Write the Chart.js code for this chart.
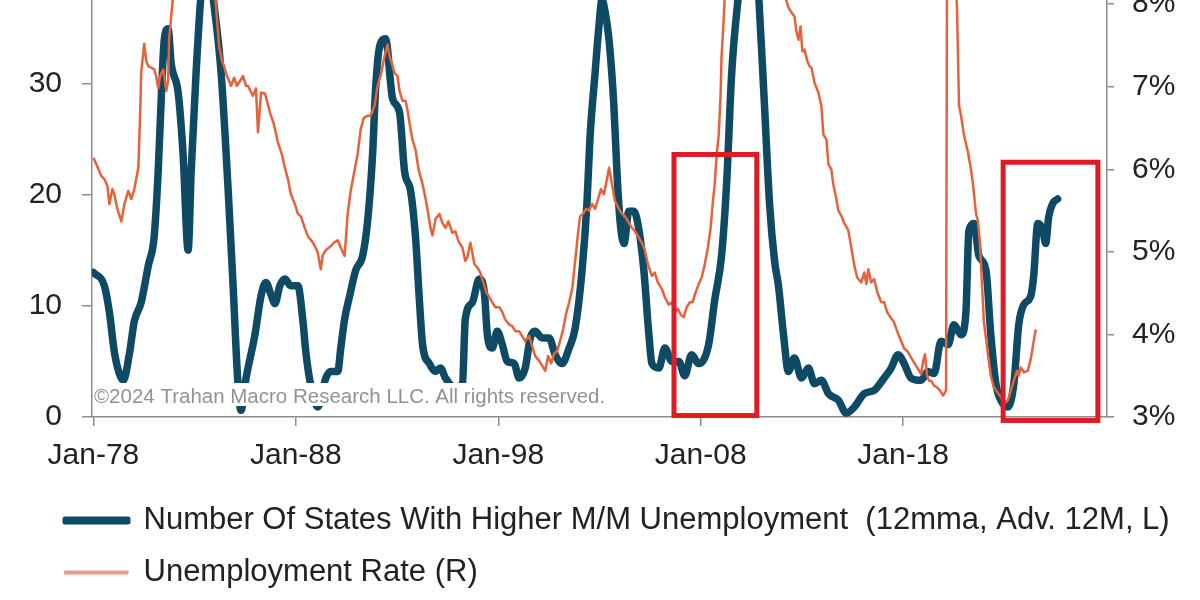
<!DOCTYPE html>
<html>
<head>
<meta charset="utf-8">
<script src="https://cdn.jsdelivr.net/npm/chart.js@4.4.1/dist/chart.umd.min.js"></script>
<style>
html,body{margin:0;padding:0;background:#fff;overflow:hidden;width:1200px;height:600px;}
#wrap{position:absolute;left:0;top:-66px;width:1200px;height:664px;}
</style>
</head>
<body>
<div id="wrap"><canvas id="c" width="1200" height="664"></canvas></div>
<script>
// ---- data (decimal year, value) ----
const statesLabel = "Number Of States With Higher M/M Unemployment  (12mma, Adv. 12M, L)";
const rateLabel = "Unemployment Rate (R)";
const xTickYears = [1978, 1988, 1998, 2008, 2018];
const leftTicks = [0, 10, 20, 30, 40];
const rightTicks = [3, 4, 5, 6, 7, 8];

const statesSeries = [
[1978.0,13.0],[1978.54,11.8],[1978.79,9.4],[1979.03,5.9],[1979.28,3.9],[1979.48,3.3],[1979.77,5.6],[1980.02,8.6],
[1980.36,10.3],[1980.71,13.6],[1981.0,16.2],[1981.2,22.1],[1981.35,28.6],[1981.5,33.9],[1981.69,34.9],[1981.84,31.8],
[1982.19,29.1],[1982.43,23.6],[1982.68,15.0],[1982.83,22.1],[1983.07,30.9],[1983.32,38],[1983.62,41],[1983.96,37],
[1984.31,30.9],[1984.65,20.6],[1984.9,11.8],[1985.14,3.0],[1985.29,0.6],[1985.54,3.5],[1985.98,7.4],[1986.28,10.9],
[1986.52,12.1],[1986.77,11.0],[1986.97,10.2],[1987.21,11.8],[1987.46,12.4],[1987.75,11.8],[1988.1,11.8],[1988.34,8.8],
[1988.49,5.9],[1988.69,3.3],[1989.08,0.9],[1989.48,3.5],[1989.72,4.1],[1990.07,4.1],[1990.22,6.2],[1990.41,8.8],
[1990.66,10.9],[1990.96,13.2],[1991.3,14.5],[1991.55,17.7],[1991.79,23.6],[1991.94,29.5],[1992.14,33.3],[1992.43,34.0],
[1992.78,28.6],[1993.12,27.4],[1993.37,22.1],[1993.67,20.3],[1993.91,16.2],[1994.11,10.3],[1994.26,6.5],[1994.6,4.8],
[1994.9,4.1],[1995.14,4.4],[1995.39,3.5],[1995.88,2.6],[1996.23,3.0],[1996.37,8.8],[1996.72,10.3],[1997.06,12.4],
[1997.31,11.2],[1997.46,7.4],[1997.7,6.2],[1997.95,7.7],[1998.2,6.5],[1998.44,5.0],[1998.79,4.8],[1999.03,3.5],
[1999.33,4.4],[1999.58,7.1],[1999.82,7.7],[2000.17,7.1],[2000.51,7.1],[2000.81,5.6],[2001.15,4.8],[2001.5,6.2],
[2001.79,7.9],[2002.14,13.2],[2002.38,19.2],[2002.53,25.1],[2002.78,30.9],[2002.98,35.3],[2003.12,37.5],[2003.27,36.5],
[2003.47,33.9],[2003.71,28.0],[2003.86,22.1],[2004.01,17.7],[2004.21,15.6],[2004.45,18.5],[2004.7,18.5],[2004.95,16.8],
[2005.19,13.2],[2005.44,7.4],[2005.59,4.8],[2005.93,4.4],[2006.23,6.2],[2006.57,5.0],[2006.92,5.0],[2007.21,3.7],
[2007.55,5.6],[2007.9,4.8],[2008.39,6.5],[2008.69,10.5],[2009.03,14.5],[2009.28,21.0],[2009.53,30.9],[2009.87,38],
[2010.27,44],[2010.61,44],[2010.86,38],[2011.15,28.0],[2011.4,19.2],[2011.65,14.0],[2011.84,11.8],[2012.09,7.4],
[2012.33,4.1],[2012.63,5.3],[2012.98,3.5],[2013.32,4.4],[2013.62,3.0],[2013.96,3.3],[2014.31,2.1],[2014.8,1.5],
[2015.19,0.35],[2015.59,0.9],[2016.08,2.1],[2016.57,2.4],[2017.06,3.5],[2017.41,4.4],[2017.75,5.6],[2018.05,4.8],
[2018.39,3.5],[2018.89,3.3],[2019.23,4.1],[2019.53,3.9],[2019.87,6.8],[2020.22,6.5],[2020.51,8.3],[2020.86,7.4],
[2021.1,9.4],[2021.25,16.8],[2021.5,17.4],[2021.74,14.5],[2022.09,13.2],[2022.33,7.4],[2022.58,3.0],[2022.83,1.5],
[2023.17,0.9],[2023.47,3.0],[2023.71,8.3],[2023.96,10.1],[2024.31,10.9],[2024.45,12.7],[2024.65,17.4],[2024.9,16.8],
[2025.04,15.6],[2025.19,18.0],[2025.39,19.2],[2025.63,19.6]
];

const rateSeries = [
[1978.0,6.14],[1978.25,6.0],[1978.39,5.92],[1978.54,5.88],[1978.69,5.80],[1978.79,5.58],[1978.94,5.76],[1979.03,5.70],
[1979.18,5.52],[1979.38,5.37],[1979.53,5.58],[1979.72,5.74],[1979.87,5.64],[1980.02,5.76],[1980.22,6.02],[1980.32,6.77],
[1980.36,7.17],[1980.51,7.52],[1980.61,7.31],[1980.71,7.25],[1980.86,7.23],[1981.0,7.21],[1981.1,7.13],[1981.2,6.98],
[1981.3,7.13],[1981.45,7.21],[1981.6,6.95],[1981.69,7.07],[1981.74,7.57],[1981.84,7.85],[1981.94,8.1],[1982.2,8.6],
[1982.6,9.5],[1982.95,10.5],[1983.3,10.0],[1983.7,9.2],[1984.06,7.96],[1984.21,7.49],[1984.36,7.31],[1984.45,7.25],
[1984.6,7.13],[1984.8,7.01],[1984.95,7.11],[1985.09,7.01],[1985.24,7.07],[1985.39,7.13],[1985.54,7.01],[1985.64,7.01],
[1985.88,6.89],[1986.03,6.98],[1986.13,6.45],[1986.28,6.93],[1986.47,6.92],[1986.57,6.83],[1986.72,6.69],[1986.92,6.54],
[1987.11,6.33],[1987.31,6.18],[1987.46,6.02],[1987.61,5.88],[1987.75,5.70],[1987.95,5.58],[1988.1,5.46],[1988.25,5.43],
[1988.44,5.29],[1988.59,5.19],[1988.79,5.13],[1988.94,5.07],[1989.08,4.99],[1989.23,4.79],[1989.33,4.96],[1989.48,5.02],
[1989.72,5.07],[1989.87,5.11],[1990.07,5.14],[1990.22,5.05],[1990.41,4.95],[1990.56,5.46],[1990.71,5.74],[1990.91,6.0],
[1991.05,6.18],[1991.2,6.48],[1991.35,6.62],[1991.55,6.65],[1991.69,6.65],[1991.89,6.77],[1992.04,7.01],[1992.24,7.19],
[1992.38,7.37],[1992.53,7.51],[1992.63,7.37],[1992.78,7.25],[1992.87,7.17],[1993.02,7.13],[1993.12,6.95],[1993.27,6.83],
[1993.42,6.83],[1993.52,6.71],[1993.67,6.48],[1993.76,6.36],[1993.91,6.24],[1994.06,6.0],[1994.26,5.82],[1994.41,5.64],
[1994.5,5.52],[1994.65,5.29],[1994.75,5.20],[1994.9,5.40],[1995.09,5.46],[1995.24,5.35],[1995.39,5.29],[1995.54,5.37],
[1995.73,5.23],[1995.88,5.25],[1996.03,5.13],[1996.23,5.05],[1996.37,4.89],[1996.47,4.93],[1996.62,5.11],[1996.72,4.99],
[1996.82,4.85],[1996.97,4.81],[1997.11,4.75],[1997.26,4.63],[1997.41,4.51],[1997.56,4.45],[1997.7,4.39],[1997.85,4.33],
[1998.05,4.33],[1998.2,4.27],[1998.34,4.18],[1998.54,4.12],[1998.69,4.10],[1998.84,4.04],[1999.03,4.04],[1999.18,3.98],
[1999.33,3.92],[1999.53,3.98],[1999.67,3.86],[1999.82,3.74],[2000.02,3.68],[2000.17,3.62],[2000.32,3.56],[2000.46,3.74],
[2000.61,3.65],[2000.76,3.77],[2000.91,3.80],[2001.05,3.92],[2001.2,4.06],[2001.35,4.25],[2001.5,4.39],[2001.65,4.55],
[2001.79,4.87],[2001.94,5.23],[2002.04,5.43],[2002.19,5.46],[2002.33,5.52],[2002.48,5.50],[2002.63,5.58],[2002.78,5.52],
[2002.93,5.64],[2003.07,5.76],[2003.22,5.70],[2003.37,5.88],[2003.47,6.02],[2003.62,5.82],[2003.76,5.62],[2003.96,5.52],
[2004.11,5.46],[2004.26,5.43],[2004.45,5.35],[2004.6,5.29],[2004.75,5.25],[2004.95,5.17],[2005.09,5.11],[2005.24,5.02],
[2005.39,4.85],[2005.59,4.71],[2005.73,4.75],[2005.88,4.63],[2006.08,4.55],[2006.23,4.45],[2006.42,4.36],[2006.57,4.39],
[2006.72,4.27],[2006.87,4.31],[2007.01,4.24],[2007.16,4.21],[2007.31,4.33],[2007.46,4.39],[2007.6,4.39],[2007.75,4.51],
[2007.9,4.61],[2008.05,4.69],[2008.2,4.85],[2008.35,5.05],[2008.49,5.29],[2008.59,5.58],[2008.69,5.82],[2008.79,6.18],
[2008.89,6.42],[2008.98,6.89],[2009.03,7.37],[2009.13,7.79],[2009.18,8.06],[2009.5,9.2],[2009.8,9.7],[2010.3,9.6],
[2010.8,9.3],[2011.3,8.8],[2011.7,8.7],[2012.05,8.2],[2012.33,7.96],[2012.48,7.9],[2012.63,7.85],[2012.73,7.67],
[2012.83,7.57],[2012.93,7.73],[2013.02,7.43],[2013.12,7.45],[2013.27,7.31],[2013.37,7.25],[2013.47,7.23],[2013.62,7.05],
[2013.81,6.93],[2013.96,6.77],[2014.06,6.42],[2014.21,6.36],[2014.31,6.06],[2014.45,6.0],[2014.55,5.82],[2014.7,5.64],
[2014.8,5.50],[2014.94,5.44],[2015.09,5.35],[2015.29,5.26],[2015.44,5.05],[2015.59,4.83],[2015.73,4.69],[2015.93,4.63],
[2016.08,4.75],[2016.18,4.61],[2016.28,4.79],[2016.42,4.63],[2016.57,4.67],[2016.72,4.51],[2016.92,4.39],[2017.06,4.39],
[2017.21,4.27],[2017.36,4.21],[2017.55,4.15],[2017.7,4.04],[2017.9,3.92],[2018.05,3.83],[2018.2,3.80],[2018.34,3.74],
[2018.49,3.68],[2018.64,3.62],[2018.79,3.56],[2018.89,3.52],[2018.99,3.68],[2019.08,3.76],[2019.18,3.50],[2019.28,3.44],
[2019.38,3.44],[2019.53,3.38],[2019.67,3.36],[2019.82,3.32],[2019.97,3.26],[2020.07,3.30],[2020.12,3.32],[2020.22,14.4],
[2020.3,13.0],[2020.4,10.8],[2020.5,10.0],[2020.58,8.4],[2020.66,7.96],[2020.76,6.77],[2020.86,6.65],[2021.0,6.42],
[2021.2,6.21],[2021.35,6.0],[2021.45,5.82],[2021.6,5.46],[2021.69,5.38],[2021.79,5.11],[2021.89,4.63],[2021.99,4.15],
[2022.19,3.76],[2022.33,3.50],[2022.48,3.36],[2022.68,3.29],[2022.83,3.24],[2023.02,3.17],[2023.17,3.20],[2023.32,3.32],
[2023.47,3.44],[2023.62,3.56],[2023.71,3.50],[2023.81,3.60],[2023.96,3.54],[2024.16,3.56],[2024.31,3.71],[2024.45,3.92],
[2024.55,4.06]
];

// highlighted periods: [startYear, endYear, topValue(L), bottomValue(L)]
const highlightBoxes = [
  [2006.68, 2010.77, 23.6, 0.13],
  [2022.94, 2027.62, 22.9, -0.31]
];
const watermarkText = "\u00a92024 Trahan Macro Research LLC. All rights reserved.";

// ---- styles ----
const FONT = "'Liberation Sans', Arial, sans-serif";
const BLUE = '#0e4a63';
const ORANGE = '#e6623b';
const LEG_ORANGE = '#e99a88';
const AXIS = '#8c8c8c';
const TEXT = '#222222';
const RED = '#df1b23';

Chart.defaults.font.family = FONT;

const overlayPlugin = {
  id: 'overlay',
  afterLayout(chart) {
    // indent the legend rows to line up under the axis labels
    if (chart.legend) chart.legend.left = 44;
  },
  afterDatasetsDraw(chart) {
    const {ctx, chartArea, scales} = chart;
    const y0 = scales.y.getPixelForValue(0);
    ctx.save();
    // watermark with white backing
    ctx.fillStyle = '#ffffff';
    ctx.fillRect(chartArea.left + 1, y0 - 34, 522, 23);
    ctx.font = "20.5px " + FONT;
    ctx.fillStyle = '#929292';
    ctx.textBaseline = 'middle';
    ctx.textAlign = 'left';
    ctx.fillText(watermarkText, chartArea.left + 2, y0 - 20);
    // red highlight boxes
    ctx.strokeStyle = RED;
    ctx.lineWidth = 5;
    highlightBoxes.forEach(([x0, x1, yt, yb]) => {
      const l = scales.x.getPixelForValue(x0), r = scales.x.getPixelForValue(x1);
      const t = scales.y.getPixelForValue(yt), b = scales.y.getPixelForValue(yb);
      ctx.strokeRect(l, t, r - l, b - t);
    });
    ctx.restore();
  }
};

new Chart(document.getElementById('c'), {
  type: 'line',
  data: {
    datasets: [
      {
        label: statesLabel,
        data: statesSeries.map(([x, y]) => ({x, y})),
        yAxisID: 'y',
        borderColor: BLUE,
        borderWidth: 7.5,
        pointRadius: 0,
        cubicInterpolationMode: 'monotone',
        borderCapStyle: 'round',
        borderJoinStyle: 'round',
        order: 2
      },
      {
        label: rateLabel,
        data: rateSeries.map(([x, y]) => ({x, y})),
        yAxisID: 'y1',
        borderColor: ORANGE,
        borderWidth: 2.5,
        pointRadius: 0,
        tension: 0,
        borderJoinStyle: 'round',
        order: 1
      }
    ]
  },
  options: {
    responsive: false,
    animation: false,
    layout: {padding: {top: 30, left: 20, right: 0, bottom: 0}},
    plugins: {
      tooltip: {enabled: false},
      legend: {
        position: 'bottom',
        align: 'start',
        labels: {
          font: {size: 31, family: FONT},
          color: TEXT,
          boxWidth: 63,
          boxHeight: 3,
          padding: 21,
          generateLabels: () => [
            {text: statesLabel, fillStyle: BLUE, strokeStyle: BLUE, lineWidth: 5, lineCap: 'round', lineJoin: 'round', datasetIndex: 0, hidden: false, fontColor: TEXT},
            {text: rateLabel, fillStyle: LEG_ORANGE, strokeStyle: LEG_ORANGE, lineWidth: 1, lineCap: 'round', lineJoin: 'round', datasetIndex: 1, hidden: false, fontColor: TEXT}
          ]
        }
      }
    },
    scales: {
      x: {
        type: 'linear',
        min: 1977.93,
        max: 2028.07,
        afterBuildTicks: s => { s.ticks = xTickYears.map(v => ({value: v})); },
        afterFit: s => { s.height = 67; },
        ticks: {
          callback: v => 'Jan-' + String(v).slice(2),
          font: {size: 30}, color: TEXT, padding: 12, maxRotation: 0, autoSkip: false
        },
        grid: {drawOnChartArea: false, drawTicks: true, tickLength: 9, color: AXIS, lineWidth: 1.5},
        border: {display: true, color: AXIS, width: 1.5}
      },
      y: {
        position: 'left',
        min: 0,
        max: 40,
        afterBuildTicks: s => { s.ticks = leftTicks.map(v => ({value: v})); },
        afterFit: s => { s.width = 72; },
        ticks: {font: {size: 30}, color: TEXT, padding: 20},
        grid: {drawOnChartArea: false, drawTicks: true, tickLength: 10, color: AXIS, lineWidth: 1.5},
        border: {display: true, color: AXIS, width: 1.5}
      },
      y1: {
        position: 'right',
        min: 3,
        max: 8.39,
        afterBuildTicks: s => { s.ticks = rightTicks.map(v => ({value: v})); },
        afterFit: s => { s.width = 93; },
        ticks: {font: {size: 30}, color: TEXT, padding: 18, callback: v => v + '%'},
        grid: {drawOnChartArea: false, drawTicks: true, tickLength: 7, color: AXIS, lineWidth: 1.5},
        border: {display: true, color: AXIS, width: 1.5}
      }
    }
  },
  plugins: [overlayPlugin]
});
</script>
</body>
</html>
